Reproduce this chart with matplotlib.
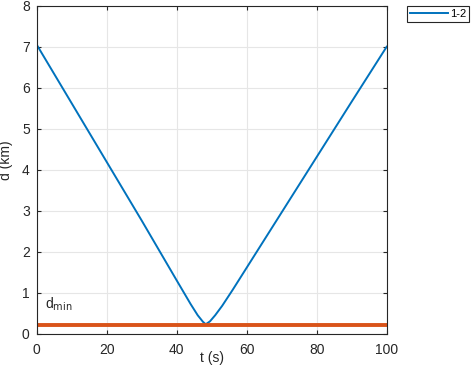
import matplotlib
matplotlib.use("Agg")
import matplotlib.pyplot as plt

# distance between objects 1 and 2 over time
t = [0, 10, 20, 30, 35, 40, 44, 46, 47.5, 48.3, 49.5, 51, 53, 56, 60, 70, 80, 90, 100]
d = [7.05, 5.62, 4.19, 2.76, 2.03, 1.30, 0.72, 0.45, 0.29, 0.23, 0.30, 0.45, 0.68,
     1.07, 1.61, 2.96, 4.31, 5.66, 7.0]
d_min = 0.2
t_range = [0, 100]

plt.rcParams['font.family'] = ['Liberation Sans', 'DejaVu Sans']
plt.rcParams['font.size'] = 10

fig = plt.figure(figsize=(4.74, 3.66), dpi=100)
ax = fig.add_axes([0.0774, 0.0883, 0.7384, 0.8961])

ax.plot(t, d, color='#0072BD', linewidth=1.4, label='1-2')
ax.plot(t_range, [d_min, d_min], color='#D95319', linewidth=2.8)
ax.text(2.4, 0.6, r'd$_{\rm min}$', fontsize=10, color='#262626')

ax.set_xlim(0, 100)
ax.set_ylim(0, 8)
ax.set_xticks([0, 20, 40, 60, 80, 100])
ax.set_yticks(range(0, 9))
ax.set_xlabel("t (s)", color='#262626')
ax.set_ylabel("d (km)", color='#262626')
ax.xaxis.set_label_coords(0.5, -0.053)
ax.yaxis.set_label_coords(-0.068, 0.53)
ax.grid(True, color='#e6e6e6', linewidth=0.8)
ax.set_axisbelow(True)
ax.tick_params(direction='in', top=True, right=True, length=3, colors='#262626',
               labelsize=10)
ax.tick_params(axis='x', pad=7)
ax.tick_params(axis='y', pad=5)
for s in ax.spines.values():
    s.set_color('#262626')
    s.set_linewidth(0.8)

leg = ax.legend(loc='upper left', bbox_to_anchor=(1.058, 0.999), fancybox=False,
                edgecolor='#262626', framealpha=1, borderaxespad=0,
                handlelength=3.4, handletextpad=0.25, fontsize=8, borderpad=0.25)
leg.get_frame().set_linewidth(0.8)

fig.savefig("out.png", dpi=100)
